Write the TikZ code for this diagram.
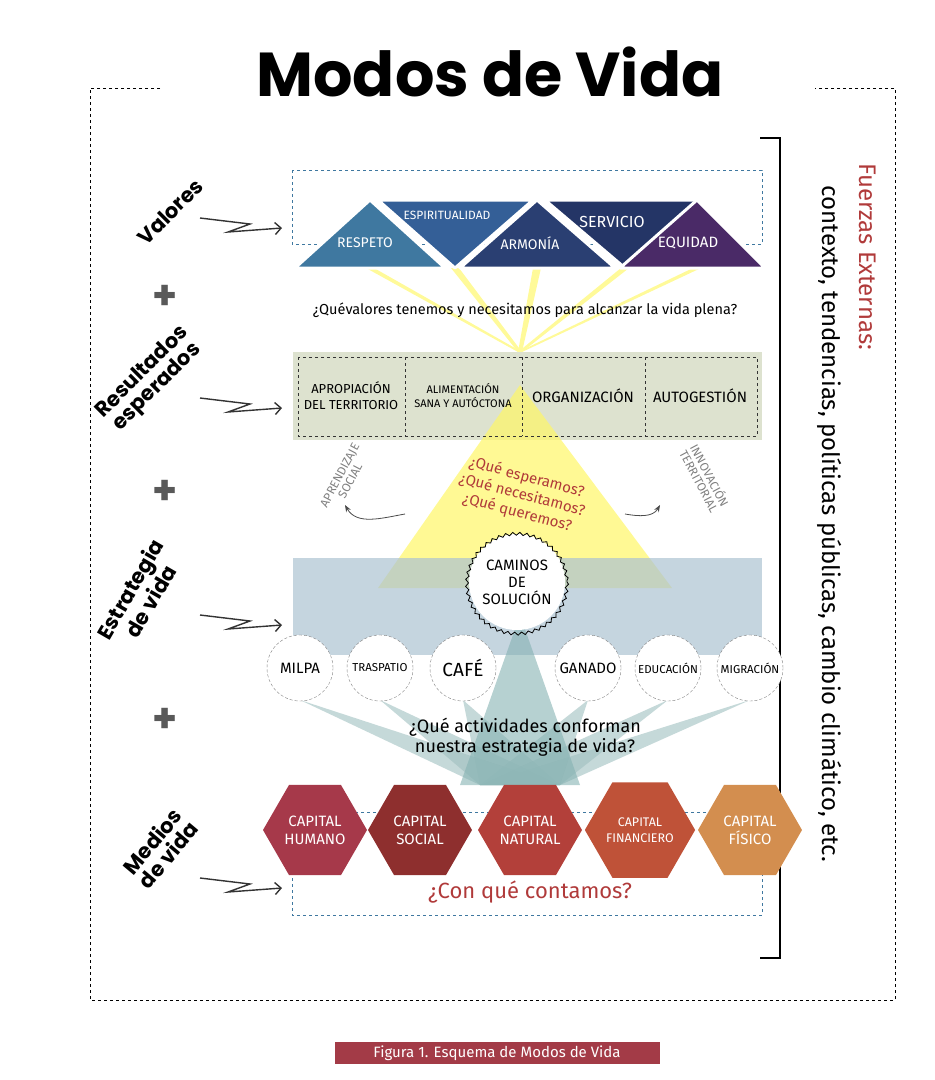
\documentclass[tikz,border=0pt]{standalone}
\usepackage{fontspec}
\setmainfont{Fira Sans}
\newfontfamily\titlefont{Poppins}
\usetikzlibrary{shapes.geometric,decorations.pathmorphing,arrows.meta}
\definecolor{cRes}{HTML}{3F78A0}
\definecolor{cEsp}{HTML}{345F97}
\definecolor{cArm}{HTML}{2A3F72}
\definecolor{cSer}{HTML}{243566}
\definecolor{cEqu}{HTML}{4A2A67}
\definecolor{cHum}{HTML}{A6394A}
\definecolor{cSoc}{HTML}{8E2F2E}
\definecolor{cNat}{HTML}{B3403A}
\definecolor{cFin}{HTML}{BF5238}
\definecolor{cFis}{HTML}{D38E4F}
\definecolor{redtxt}{HTML}{B03A3A}
\definecolor{capbg}{HTML}{A33B47}
\newcommand{\fs}[1]{\fontsize{#1}{#1}\selectfont}
\tikzset{
  tri/.style={text=white,font=\fs{14}},
  hexa/.style={regular polygon,regular polygon sides=6,minimum size=104pt,inner sep=0pt,
    text=white,align=center,font=\fs{15}},
  act/.style={circle,draw=gray,densely dashed,fill=white,minimum size=66pt,inner sep=0pt,font=\fs{14}},
  side/.style={font=\titlefont\bfseries\fs{21},align=center},
  zig/.style={-{Straight Barb[length=6pt]},line width=1.4pt,black!80},
  plus/.style={font=\titlefont\bfseries\fs{40},text=black!65},
  ray/.style={fill=yellow!40}
}
\begin{document}
\begin{tikzpicture}[x=1pt,y=-1pt]
   \useasboundingbox (0,0) rectangle (935,1080);
   % title and frame
   \node (title) at (490,72) {\titlefont\bfseries\fs{62}Modos de Vida};
   \draw [dashed] (160,88) -- (90,88) -- (90,1000) -- (895,1000) -- (895,88) -- (815,88);
   \draw [very thick] (760,138) -- (780,138) -- (780,958) -- (760,958);
   \node [rotate=-90,font=\fs{24},text=redtxt,anchor=west] (fuerzas) at (868,160) {Fuerzas Externas:};
   \node [rotate=-90,font=\fs{24}] (contexto) at (830,524) {contexto, tendencias, políticas públicas, cambio climático, etc.};
   % valores
   \draw [dashed,cRes,thick] (292,170) rectangle (762,244);
   \fill [ray] (366,268) -- (374,268) -- (522,352) -- (518,352) -- cycle;
   \fill [ray] (451,268) -- (459,268) -- (522,352) -- (518,352) -- cycle;
   \fill [ray] (533,268) -- (541,268) -- (522,352) -- (518,352) -- cycle;
   \fill [ray] (621,268) -- (629,268) -- (522,352) -- (518,352) -- cycle;
   \fill [ray] (693,268) -- (701,268) -- (522,352) -- (518,352) -- cycle;
   \begin{scope}[draw=white,line width=3pt,line join=round]
     \filldraw [fill=cRes] (295,268) -- (370,200) -- (445,268) -- cycle;
     \filldraw [fill=cEsp] (378,200) -- (533,200) -- (455,268) -- cycle;
     \filldraw [fill=cArm] (460,268) -- (537,200) -- (615,268) -- cycle;
     \filldraw [fill=cSer] (545,200) -- (700,200) -- (625,268) -- cycle;
     \filldraw [fill=cEqu] (620,268) -- (697,200) -- (765,268) -- cycle;
   \end{scope}
   \node [tri] (respeto) at (365,243) {RESPETO};
   \node [tri,font=\fs{12}] (espiritualidad) at (447,215) {ESPIRITUALIDAD};
   \node [tri] (armonia) at (530,243) {ARMONÍA};
   \node [tri,font=\fs{16}] (servicio) at (612,222) {SERVICIO};
   \node [tri,font=\fs{15}] (equidad) at (688,243) {EQUIDAD};
   \node [font=\fs{14.5}] (q1) at (525,310) {¿Quévalores tenemos y necesitamos para alcanzar la vida plena?};
   % resultados
   \fill [green!30!yellow!25!gray!30] (293,352) rectangle (762,440);
   \fill [yellow!60,opacity=0.7] (520,385) -- (672,588) -- (378,588) -- cycle;
   \draw [dashed,thick,black!80] (298,357) rectangle (757,436);
   \foreach \x in {405,522,645} \draw [dashed,thick,black!80] (\x,357) -- (\x,436);
   \node [font=\fs{13},align=center] (apro) at (351,396) {APROPIACIÓN\\[3pt]DEL TERRITORIO};
   \node [font=\fs{11},align=center] (alim) at (463,396) {ALIMENTACIÓN\\[3pt]SANA Y AUTÓCTONA};
   \node [font=\fs{15}] (org) at (583,396) {ORGANIZACIÓN};
   \node [font=\fs{15}] (auto) at (700,396) {AUTOGESTIÓN};
   % estrategia
   \fill [blue!40!cyan!30!gray!50,opacity=0.7] (293,558) rectangle (762,655);
   \node [font=\fs{15},text=redtxt,rotate=-15,align=center] (esp) at (522,495) {¿Qué esperamos?\\[2pt]¿Qué necesitamos?\\[2pt]¿Qué queremos?};
   \node [font=\fs{12},text=gray,rotate=62,align=center] (apr) at (345,478) {APRENDIZAJE\\SOCIAL};
   \node [font=\fs{12},text=gray,rotate=-62,align=center] (inn) at (705,478) {INNOVACIÓN\\TERRITORIAL};
   \draw [-{Stealth[length=7pt]},thick,black!70] (405,514) to[out=190,in=-60] (345,505);
   \draw [-{Stealth[length=7pt]},thick,black!70] (625,514) to[out=-10,in=-120] (660,505);
   % activities fan
   \foreach \x in {300,380,463,588,668,750}
     \fill [teal!50!gray!50,opacity=0.6] (\x,700) -- (480,785) -- (560,785) -- cycle;
   \fill [teal!60!gray!60,opacity=0.6] (520,615) -- (580,785) -- (460,785) -- cycle;
   \node [circle,thick,fill=white,minimum size=96pt,inner sep=0pt] (camc) at (517,582) {};
   \draw [thick,decorate,decoration={snake,amplitude=1.5pt,segment length=7pt}] (517,582) circle (50);
   \node [align=center,font=\fs{15}] (caminos) at (517,582) {CAMINOS\\[2pt]DE\\[2pt]SOLUCIÓN};
   \node [act,font=\fs{15}] (milpa) at (300,668) {MILPA};
   \node [act,font=\fs{11.5}] (traspatio) at (380,668) {TRASPATIO};
   \node [act,font=\fs{19}] (cafe) at (463,668) {CAFÉ};
   \node [act,font=\fs{15}] (ganado) at (588,668) {GANADO};
   \node [act,font=\fs{11.5}] (educacion) at (668,668) {EDUCACIÓN};
   \node [act,font=\fs{11.5}] (migracion) at (750,668) {MIGRACIÓN};
   \node [align=center,font=\fs{18}] (q2) at (525,737) {¿Qué actividades conforman\\[2pt]nuestra estrategia de vida?};
   % medios
   \draw [dashed,cRes,thick] (292,812) rectangle (762,915);
   \node [hexa,fill=cHum] (humano) at (315,830) {CAPITAL\\[3pt]HUMANO};
   \node [hexa,fill=cSoc] (social) at (420,830) {CAPITAL\\[3pt]SOCIAL};
   \node [hexa,fill=cNat] (natural) at (530,830) {CAPITAL\\[3pt]NATURAL};
   \node [hexa,fill=cFin,font=\fs{12.5}] (financiero) at (640,830) {CAPITAL\\[3pt]FINANCIERO};
   \node [hexa,fill=cFis] (fisico) at (750,830) {CAPITAL\\[3pt]FÍSICO};
   \node [font=\fs{22},text=redtxt] (q3) at (530,892) {¿Con qué contamos?};
   % left labels
   \node [side,rotate=45] (valores) at (170,212) {Valores};
   \node [side,rotate=45] (resultados) at (150,380) {Resultados\\esperados};
   \node [side,rotate=60] (estrategia) at (140,595) {Estrategia\\de vida};
   \node [side,rotate=50] (medios) at (160,848) {Medios\\de vida};
   \foreach \y in {228,408,625,888}
     \draw [zig] (200,\y-10) -- (250,\y-4) -- (228,\y+4) -- (282,\y);
   \node [plus] (p1) at (165,297) {+};
   \node [plus] (p2) at (165,492) {+};
   \node [plus] (p3) at (165,720) {+};
   % caption
   \node [fill=capbg,text=white,minimum width=325pt,minimum height=22pt,font=\fs{15}] (caption) at (497,1053) {Figura 1. Esquema de Modos de Vida};
\end{tikzpicture}
\end{document}
